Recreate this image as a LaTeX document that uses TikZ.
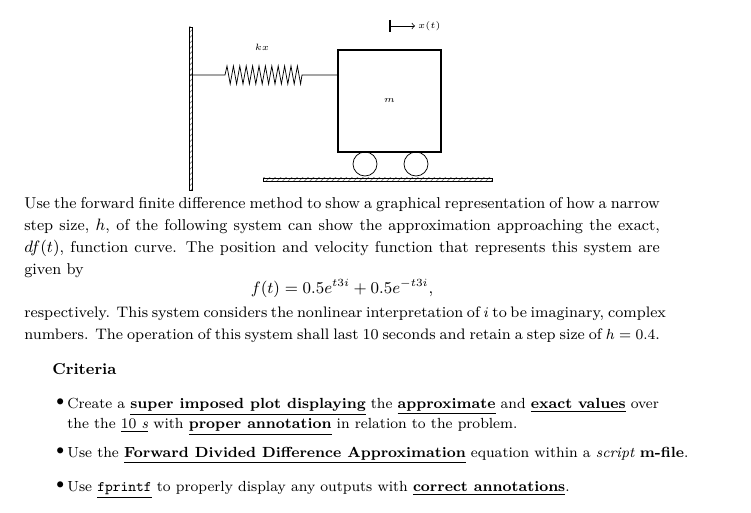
\documentclass[tikz,border=0pt]{standalone}
\usepackage{amsmath}
\usetikzlibrary{patterns}
\begin{document}
\begin{tikzpicture}[x=0.546pt,y=-0.546pt,
  hatch/.style={draw,line width=0.4pt,pattern=north east lines,pattern color=gray},
  txt/.style={inner sep=0pt,anchor=north west,align=left,font=\fontsize{8.6}{12}\selectfont},
  itm/.style={txt,font=\fontsize{8.0}{11}\selectfont}]
\useasboundingbox (0,0) rectangle (751,513);
% wall
\draw[hatch] (189,27) rectangle (192,190);
% ground
\draw[hatch] (263,178) rectangle (492,181);
% spring
\coordinate (w) at (190,75);
\draw (w) -- (225,75)
  \foreach \i in {0,...,11}{ -- ({227+\i*6.4},66) -- ({230.2+\i*6.4},84)} -- (302,75) -- (338,75);
\node at (262,47) {\tiny $kx$};
% mass
\node[draw,line width=0.9pt,minimum width=56pt,minimum height=55.5pt,inner sep=0pt] (m) at (389.5,101) {\tiny $m$};
\draw (365,164) circle (12);
\draw (416,164) circle (12);
% arrow
\draw[line width=0.9pt] (390,20) -- (390,32);
\coordinate (a0) at (390,26);
\coordinate (a1) at (415,26);
\draw[->] (a0) -- (a1);
\node[anchor=west,inner sep=1pt] at (416,26) {\tiny $x(t)$};
% text
\node[txt] (p) at (24,197) {\begin{minipage}{347pt}
Use the forward finite difference method to show a graphical representation of how a narrow\linebreak{} step size, $h$, of the following system can show the approximation approaching the exact,\linebreak{} $df(t)$, function curve. The position and velocity function that represents this system are\linebreak{} given by
\end{minipage}};
\node[txt,anchor=center] (eq) at (342,288) {$f(t) = 0.5e^{t3i}+0.5e^{-t3i},$};
\node[txt] (p2) at (24,306) {\begin{minipage}{347pt}
\noindent\makebox[\linewidth][s]{\fontsize{8.3}{12}\selectfont respectively. This system considers the nonlinear interpretation of $i$ to be imaginary, complex}\par
\noindent\makebox[\linewidth][s]{\fontsize{8.3}{12}\selectfont numbers. The operation of this system shall last 10 seconds and retain a step size of $h=0.4$.}
\end{minipage}};
\node[txt] (c) at (52,363) {\textbf{Criteria}};
\node[itm] (b1) at (56,398) {$\bullet$};
\node[itm] (i1) at (67,398) {\begin{minipage}{323pt}Create a \underline{\textbf{super imposed plot displaying}} the \underline{\textbf{approximate}} and \underline{\textbf{exact values}} over\linebreak{} the the \underline{10 \textit{s}} with \underline{\textbf{proper annotation}} in relation to the problem.\end{minipage}};
\node[itm] (b2) at (56,447) {$\bullet$};
\node[itm] (i2) at (67,447) {Use the \underline{\textbf{Forward Divided Difference Approximation}} equation within a \textit{script} \textbf{m-file}.};
\node[itm] (b3) at (56,481) {$\bullet$};
\node[itm] (i3) at (67,481) {Use \underline{\texttt{fprintf}} to properly display any outputs with \underline{\textbf{correct annotations}}.};
\end{tikzpicture}
\end{document}
